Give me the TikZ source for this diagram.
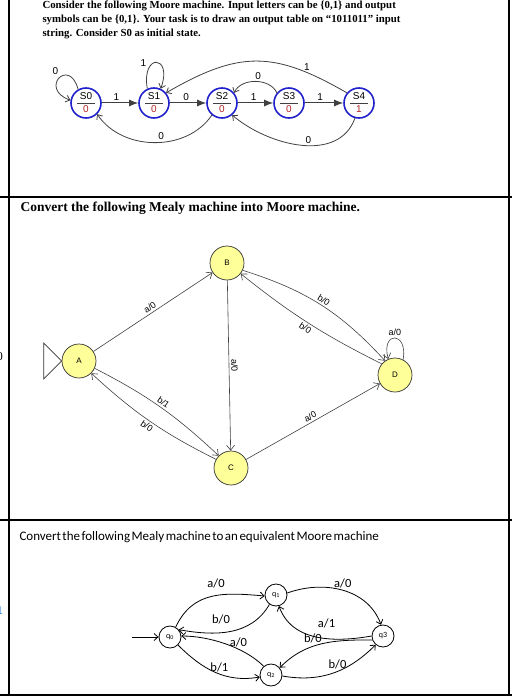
\documentclass[tikz,border=0pt]{standalone}
\usepackage{fontspec}
\setmainfont{Liberation Serif}
\setsansfont{Liberation Sans}
\newfontfamily\calib[WordSpace=0.5]{Carlito}
\usetikzlibrary{arrows.meta}
\definecolor{mblue}{HTML}{2222CC}
\definecolor{mred}{HTML}{B22222}
\definecolor{myel}{HTML}{FFFF99}
\definecolor{wblue}{HTML}{2E86DE}
\tikzset{
    MO/.style ={circle,minimum size=30pt,inner sep=0pt,draw=mblue,line width=1.6pt,align=center,font=\sffamily\fontsize{10}{13}\selectfont,
        path picture={\draw[black!75,line width=0.6pt] ([xshift=-9pt]path picture bounding box.center) -- ([xshift=9pt]path picture bounding box.center);}},
    ME/.style ={circle,minimum size=34pt,inner sep=0pt,draw=black!80,line width=0.7pt,fill=myel,font=\sffamily\fontsize{8}{9}\selectfont},
    QS/.style ={circle,minimum size=22pt,inner sep=0pt,draw,line width=0.8pt,font=\calib\fontsize{8}{9}\selectfont},
    FA/.style ={draw=black!75,line width=1pt,-{Latex[length=9pt,width=7pt]}},
    OA/.style ={draw=black!75,line width=0.8pt,-{Straight Barb[length=4pt,width=7pt]}},
    MA/.style ={draw=black!75,line width=0.6pt,-{Straight Barb[length=5pt,width=8pt]}},
    QA/.style ={draw,line width=0.8pt,-{Straight Barb[length=4pt,width=7pt]}},
    LM/.style ={font=\sffamily\fontsize{10}{12}\selectfont,inner sep=2pt},
    LE/.style ={font=\sffamily\fontsize{9}{10}\selectfont,inner sep=2pt},
    LQ/.style ={font=\calib\fontsize{12.5}{14}\selectfont,inner sep=2pt},
    HD/.style ={anchor=base west,font=\bfseries\fontsize{10.8}{14}\selectfont},
    SU/.style ={sloped,above},
    TB/.style ={line width=1.2pt}}

\begin{document}
\begin{tikzpicture}[x=1pt,y=1pt]
        \useasboundingbox (0,0) rectangle (512,-698);
        \foreach \y in {197,520,695}{
        \draw[TB] (0,-\y) -- (512,-\y);}
        \foreach \x in {9,509}{
        \draw[TB] (\x,0) -- (\x,-695);}
        \node[anchor=east,inner sep=0pt,font=\fontsize{12}{14}\selectfont] (e0) at (3,-357) {0};
        \node[anchor=east,inner sep=0pt,text=wblue,font=\calib\fontsize{12}{14}\selectfont] (e1) at (3,-611) {1};

        \node[HD] (t1) at (39,-8.5) {Consider the following Moore machine. Input letters can be \{0,1\} and output};
        \node[HD] (t2) at (39,-22.5) {symbols can be \{0,1\}. Your task is to draw an output table on “1011011” input};
        \node[HD] (t3) at (39,-36.5) {string. Consider S0 as initial state.};
        \node[MO] (s0) at (86,-103) {S0\\\textcolor{mred}{0}};
        \node[MO] (s1) at (154,-103) {S1\\\textcolor{mred}{0}};
        \node[MO] (s2) at (222,-103) {S2\\\textcolor{mred}{0}};
        \node[MO] (s3) at (289,-103) {S3\\\textcolor{mred}{0}};
        \node[MO] (s4) at (359,-103) {S4\\\textcolor{mred}{1}};
        \draw[FA] (s0) -- node[LM,above,pos=0.4]{1} (s1);
        \draw[FA] (s1) -- node[LM,above,pos=0.45]{0} (s2);
        \draw[FA] (s2) -- node[LM,above,pos=0.45]{1} (s3);
        \draw[FA] (s3) -- node[LM,above,pos=0.4]{1} (s4);
        \draw[OA] (s0.120) to[out=105,in=160,looseness=6.5] node[LM,above left,pos=0.45]{0} (s0.170);
        \draw[OA] (s1.115) to[out=100,in=70,looseness=7] node[LM,above left,pos=0.25]{1} (s1.65);
        \draw[OA] (s4.140) to[out=150,in=30,looseness=1.2] node[LM,above=0pt,pos=0.2]{1} (s1.40);
        \draw[OA] (s3.140) to[out=115,in=65] node[LM,above,pos=0.45]{0} (s2.40);
        \draw[OA] (s2.230) to[out=236,in=304] node[LM,above,pos=0.45]{0} (s0.-45);
        \draw[OA] (s4.-105) to[out=250,in=320] node[LM,above,pos=0.45]{0} (s2.-50);

        \node[anchor=base west,font=\bfseries\fontsize{13.5}{16}\selectfont] (t4) at (17,-211) {Convert the following Mealy machine into Moore machine.};
        \node[ME] (a) at (79,-361) {A};
        \node[ME] (b) at (227,-263) {B};
        \node[ME] (c) at (231,-468) {C};
        \node[ME] (d) at (395,-375) {D};
        \draw[draw=black!80,line width=0.7pt] (a.west) -- ++(-18,18) -- ++(0,-36) -- cycle;
        \draw[MA] (a) -- node[LE,SU]{a/0} (b);
        \draw[MA] (b) -- node[LE,SU]{a/0} (c);
        \draw[MA] (b.-25) to[bend left=15] node[LE,SU]{b/0} (d.125);
        \draw[MA] (d.140) to[bend left=6] node[LE,sloped,below]{b/0} (b.-38);
        \draw[MA] (d.62) to[out=80,in=105,looseness=5] node[LE,above]{a/0} (d.113);
        \draw[MA] (a.-25) to[bend left=8] node[LE,SU]{b/1} (c.135);
        \draw[MA] (c.150) to[bend left=8] node[LE,sloped,below]{b/0} (a.-45);
        \draw[MA] (c) -- node[LE,SU]{a/0} (d);

        \node[anchor=base west,font=\calib\fontsize{13}{15}\selectfont] (t5) at (16,-540) {Convert the following Mealy machine to an equivalent Moore machine};
        \node[QS] (q0) at (170,-637) {q\textsubscript{0}};
        \node[QS] (q1) at (276,-595) {q\textsubscript{1}};
        \node[QS] (q2) at (271,-675) {q\textsubscript{2}};
        \node[QS] (q3) at (383,-636) {q3};
        \coordinate (q0in) at (132,-637);
        \draw[QA] (q0in) -- (q0);
        \draw[QA] (q0.60) to[out=65,in=175,looseness=1.1] node[LQ,above=5pt,pos=0.55]{a/0} (q1.185);
        \draw[QA] (q1.235) to[out=240,in=-10] node[LQ,above=6pt,pos=0.6]{b/0} (q0.40);
        \draw[QA] (q1.10) to[out=20,in=110] node[LQ,above]{a/0} (q3.100);
        \draw[QA] (q3.180) to[out=190,in=290] node[LQ,above=8pt,pos=0.4]{a/1} (q1.-75);
        \draw[QA] (q2.130) to[out=135,in=0,looseness=0.8] node[LQ,above=0pt,pos=0.35]{a/0} (q0.5);
        \draw[QA] (q0.-45) to[out=-45,in=190] node[LQ,above,pos=0.55]{b/1} (q2.190);
        \draw[QA] (q3.200) to[out=180,in=45] node[LQ,above=1pt,pos=0.6]{b/0} (q2.40);
        \draw[QA] (q2.-5) to[out=-10,in=225] node[LQ,above,pos=0.55]{b/0} (q3.230);
    \end{tikzpicture}
\end{document}
